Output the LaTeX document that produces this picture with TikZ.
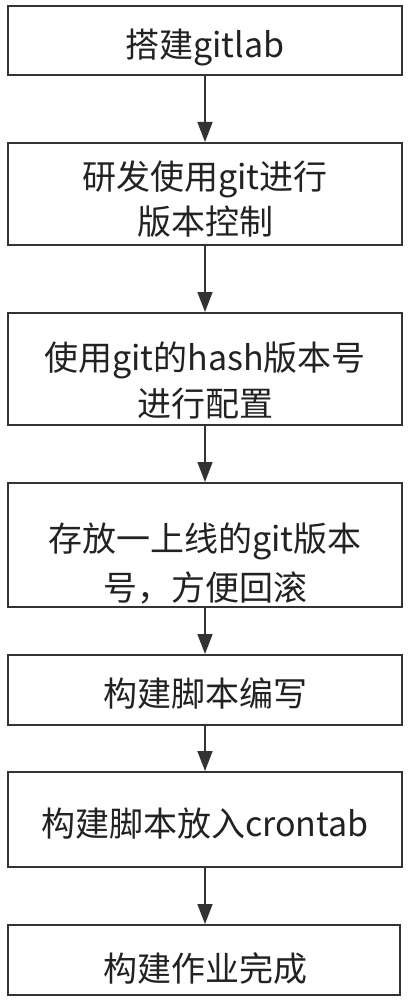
\documentclass[tikz,border=0pt]{standalone}
\usepackage{fontspec}
\setmainfont{Noto Sans CJK SC}
\usetikzlibrary{arrows.meta}
\definecolor{boxline}{HTML}{333333}
\definecolor{txtcol}{HTML}{222222}
\tikzset{
  stepbox/.style={draw=boxline, line width=2pt, minimum width=394pt, inner sep=0pt, fill=white},
  steptxt/.style={anchor=base, text=txtcol, inner sep=0pt, font=\fontsize{34pt}{46pt}\selectfont},
  flow/.style={draw=boxline, line width=1.6pt, -{Triangle[width=15pt,length=20pt]}}
}
\begin{document}
\begin{tikzpicture}[x=1pt,y=-1pt]
\useasboundingbox (0,0) rectangle (409,1000);
\node[stepbox, minimum height=69pt]  (b1) at (205,40.5) {};
\node[stepbox, minimum height=102pt] (b2) at (205,194) {};
\node[stepbox, minimum height=112pt] (b3) at (205,369) {};
\node[stepbox, minimum height=124pt] (b4) at (205,545) {};
\node[stepbox, minimum height=70pt]  (b5) at (205,690) {};
\node[stepbox, minimum height=95pt]  (b6) at (205,819.5) {};
\node[stepbox, minimum height=70pt, minimum width=392pt]  (b7) at (204,960) {};

\node[steptxt] (t1) at (205,58) {搭建gitlab};
\node[steptxt] (t2a) at (205,190) {研发使用git进行};
\node[steptxt] (t2b) at (205,235) {版本控制};
\node[steptxt] (t3a) at (205,370) {使用git的hash版本号};
\node[steptxt] (t3b) at (205,416) {进行配置};
\node[steptxt] (t4a) at (205,551) {存放一上线的git版本};
\node[steptxt] (t4b) at (205,600) {号，方便回滚};
\node[steptxt] (t5) at (205,706) {构建脚本编写};
\node[steptxt] (t6) at (205,836) {构建脚本放入crontab};
\node[steptxt] (t7) at (205,981) {构建作业完成};

\draw[flow] (b1.south) -- (b2.north);
\draw[flow] (b2.south) -- (b3.north);
\draw[flow] (b3.south) -- (b4.north);
\draw[flow] (b4.south) -- (b5.north);
\draw[flow] (b5.south) -- (b6.north);
\draw[flow] (b6.south) -- (b7.north -| b6.south);
\end{tikzpicture}
\end{document}
